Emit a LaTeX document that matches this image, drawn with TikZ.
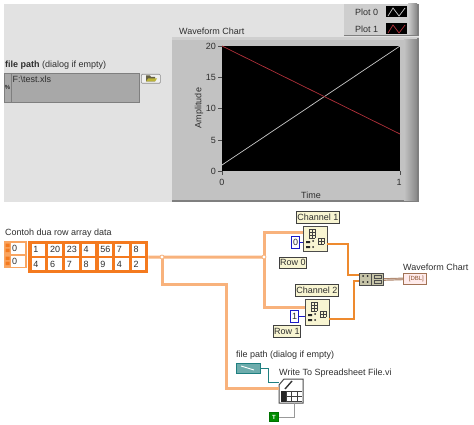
\documentclass[tikz,border=0pt]{standalone}
\usepackage{fontspec}
\usepackage{xcolor}
\setmainfont{Liberation Sans}
\usetikzlibrary{calc, positioning}
\definecolor{panelgray}{HTML}{E2E2E2}
\definecolor{framegray}{HTML}{C2C2C2}
\definecolor{edgegray}{HTML}{7F7F7F}
\definecolor{pathgray}{HTML}{A8A8A8}
\definecolor{txtdark}{HTML}{2E2E2E}
\definecolor{arrorange}{HTML}{F47A1F}
\definecolor{idxorange}{HTML}{F9A561}
\definecolor{wirepale}{HTML}{F8B27C}
\definecolor{wireorange}{HTML}{EE8A2E}
\definecolor{wirebrown}{HTML}{8A4F2A}
\definecolor{wireteal}{HTML}{1F7F80}
\definecolor{fnyellow}{HTML}{F8F5D2}
\definecolor{intblue}{HTML}{1A1AC8}
\definecolor{plotred}{HTML}{B0303A}
\definecolor{plotwhite}{HTML}{C8C8C8}
\tikzset{
    lbl/.style={font=\fontsize{9}{10}\selectfont, text=txtdark, inner sep=0pt},
    boxed/.style={anchor=north west, inner sep=0pt},
    cellbox/.style={boxed, lbl, fill=white, minimum width=13.5pt, minimum height=12pt, text width=12pt, align=left},
    notebox/.style={boxed, lbl, draw=black!75, fill=fnyellow, line width=0.8pt},
    fnbox/.style={boxed, draw=black!70, fill=fnyellow, line width=1pt},
    wiretwo/.style={wirepale, line width=3pt},
    wireone/.style={wireorange, line width=1.8pt},
    icongrid/.style={black!75, line width=0.7pt},
    indexfn/.pic={
        \draw[icongrid, step=3pt] (6,3) grid (12,12);
        \draw[icongrid, step=3pt] (15,12) grid (21,18);
        \fill[black!85] (3,15) rectangle (7,17) (3,20) rectangle (7,22);
        \fill[black!85] (10,15) circle (1pt) (10,21) circle (1pt);
    }
}
\begin{document}
\begin{tikzpicture}[x=1pt, y=-1pt]
    \useasboundingbox (0,0) rectangle (474,425);
    % front panel
    \fill[panelgray] (4,4) rectangle (419,202);
    \fill[framegray] (172,40) rectangle (419,202);
    \fill[framegray!60!panelgray] (172,37) rectangle (419,40);
    \fill[edgegray] (172,200) rectangle (419,202);
    \fill[left color=framegray, right color=framegray!70!black] (404,40) rectangle (417,200);
    \fill[edgegray] (417,38) rectangle (419,202);
    \fill[framegray!80!white] (344,4) rectangle (419,36);
    \fill[left color=framegray!80!white, right color=framegray!70!black] (408,4) rectangle (417,36);
    \fill[edgegray] (417,4) rectangle (419,36);
    \fill[edgegray] (344,35) rectangle (419,36.5);
    \node[boxed, fill=black, minimum width=178pt, minimum height=125pt] (plotarea) at (222,46) {};
    \draw[plotwhite, line width=0.7pt] (222,165) -- (400,46);
    \draw[plotred, line width=0.7pt] (222,46) -- (400,134);
    % axes
    \node[lbl, anchor=south west] (charttitle) at (179,35) {Waveform Chart};
    \foreach \val/\ypos in {20/46, 15/77, 10/108, 5/140, 0/171} {
        \node[lbl, anchor=east] (ytick\val) at (216,\ypos) {\val};
        \draw[black!70, line width=0.6pt] (218,\ypos) -- (222,\ypos);
    }
    \node[lbl] (xtick0) at (222,182) {0};
    \node[lbl] (xtick1) at (399,182) {1};
    \draw[black!70, line width=0.6pt] (222,171) -- (222,175) (400,171) -- (400,175);
    \node[lbl] (xname) at (311,195) {Time};
    \node[lbl, rotate=90] (yname) at (199,108) {Amplitude};
    % legend
    \node[lbl, anchor=west] (legend0) at (355,12) {Plot 0};
    \node[lbl, anchor=west] (legend1) at (355,29) {Plot 1};
    \foreach \ypos/\col in {6/plotwhite, 23/plotred} {
        \fill[black] (386,\ypos) rectangle (407,\ypos+11.5);
        \draw[\col, line width=0.7pt] (388,\ypos+10) -- (393,\ypos+2) -- (399,\ypos+10) -- (405,\ypos+2);
    }
    % file path control
    \node[lbl, anchor=south west] (pathlabel) at (5,70) {\textbf{file path} (dialog if empty)};
    \node[boxed, fill=pathgray, draw=edgegray, line width=0.8pt, minimum width=135pt, minimum height=29pt] (pathbox) at (4,73) {};
    \draw[edgegray, line width=0.8pt] (11,73) -- (11,102);
    \node[lbl, anchor=north west] (pathtext) at (12.5,76) {F:\textbackslash test.xls};
    \node[lbl, font=\fontsize{6}{6}\selectfont\bfseries] (pathpin) at (7.5,87) {\%};
    \node[boxed, fill=panelgray!50!white, draw=black!45, line width=0.6pt, rounded corners=1pt, minimum width=19pt, minimum height=9pt] (browsebtn) at (141,74) {};
    \fill[black!70!yellow] (146,75.5) -- (150,75.5) -- (151,77) -- (155,77) -- (155,81.5) -- (146,81.5) -- cycle;
    \fill[yellow!70!black] (148,78.5) -- (157,78.5) -- (155,81.5) -- (146,81.5) -- cycle;
    % array control
    \node[lbl, anchor=south west] (arraylabel) at (5,238) {Contoh dua row array data};
    \node[boxed, fill=idxorange, minimum width=23pt, minimum height=27pt] (indexframe) at (4,241) {};
    \foreach \ypos in {243, 256} {
        \node[boxed, lbl, fill=white, minimum width=14pt, minimum height=10.5pt, text width=12pt, align=left] (index\ypos) at (11,\ypos) {0};
        \fill[arrorange] (5.5,\ypos+0.5) rectangle (9.5,\ypos+4) (5.5,\ypos+5.5) rectangle (9.5,\ypos+9);
    }
    \node[boxed, fill=arrorange, minimum width=120pt, minimum height=32pt] (arrayframe) at (28,241) {};
    \foreach \val [count=\i] in {1,20,23,4,56,7,8} {
        \node[cellbox] (rowa\i) at ({31.5+16.7*(\i-1)},243.5) {\hspace{1pt}\val};
    }
    \foreach \val [count=\i] in {4,6,7,8,9,4,2} {
        \node[cellbox] (rowb\i) at ({31.5+16.7*(\i-1)},258) {\hspace{1pt}\val};
    }
    % block diagram
    \coordinate (jleft) at (162,257);
    \coordinate (jright) at (264,257);
    \node[fnbox, minimum width=24pt, minimum height=25pt] (indexa) at (303,226) {};
    \node[fnbox, minimum width=24pt, minimum height=26pt] (indexb) at (305,299) {};
    \pic at (indexa.north west) {indexfn};
    \pic at (indexb.north west) {indexfn};
    \node[notebox, minimum width=43pt, minimum height=12pt] (chana) at (296,211) {Channel 1};
    \node[notebox, minimum width=43pt, minimum height=12pt] (chanb) at (295,284) {Channel 2};
    \node[notebox, minimum width=27pt, minimum height=11pt] (rowzero) at (279,257) {Row 0};
    \node[notebox, minimum width=27pt, minimum height=12pt] (rowone) at (273,325) {Row 1};
    \node[boxed, lbl, draw=intblue, fill=white, line width=1.3pt, minimum width=8pt, minimum height=12pt] (consta) at (291,236) {0};
    \node[boxed, lbl, draw=intblue, fill=white, line width=1.3pt, minimum width=8pt, minimum height=12pt] (constb) at (290,310) {1};
    \node[fnbox, fill=fnyellow!80!black, minimum width=24pt, minimum height=12pt] (buildarr) at (359,273) {};
    \draw[black!70, line width=0.8pt] (371,273) -- (371,285);
    \fill[black!85] (363,276) circle (1pt) (363,282) circle (1pt) (367.5,276) circle (1pt) (367.5,282) circle (1pt);
    \draw[black!70, line width=0.6pt] (374,275.5) rectangle (381,278.5) (374,280) rectangle (381,283);
    \node[boxed, draw=wirebrown!80, fill=red!8, line width=0.8pt, minimum width=23pt, minimum height=11pt, font=\fontsize{6}{6}\selectfont, text=wirebrown] (chartterm) at (403,273) {\hspace{3pt}[DBL]};
    \node[lbl, anchor=south west] (chartname) at (403,271) {Waveform Chart};
    \node[boxed, draw=wireteal, fill=wireteal!65, line width=0.9pt, minimum width=24pt, minimum height=10pt] (pathterm) at (236,363) {};
    \draw[white, line width=0.9pt] (241,366) -- (254,370);
    \node[lbl, anchor=south west] (pathname) at (236,360) {file path (dialog if empty)};
    \node[boxed, draw=none, minimum width=24pt, minimum height=24pt] (writevi) at (279,379) {};
    \draw[black!70, fill=white, line width=1pt] (284,379) -- (303,379) -- (303,403) -- (279,403) -- (279,385) -- cycle;
    \draw[black!75, line width=0.7pt] (281,391) -- (302,391) (281,396) -- (302,396) (281,401) -- (302,401);
    \draw[black!75, line width=0.7pt] (286,391) -- (286,402) (291,391) -- (291,402) (297,391) -- (297,402);
    \fill[black!85] (281,391) rectangle (286,402);
    \draw[black!80, line width=1.4pt] (285,389) -- (292,381);
    \node[lbl, anchor=south west] (writename) at (279,378) {Write To Spreadsheet File.vi};
    \node[boxed, draw=green!45!black, fill=green!55!black, line width=0.9pt, minimum width=9pt, minimum height=9pt, font=\fontsize{6}{6}\selectfont\bfseries, text=white] (boolconst) at (269,412) {T};
    % wires
    \coordinate (indexain) at (303,232);
    \coordinate (indexbin) at (305,307);
    \coordinate (indexaout) at (327,244);
    \coordinate (indexbout) at (329,319);
    \coordinate (buildtop) at (359,275);
    \coordinate (buildbot) at (359,281);
    \coordinate (writein) at (279,388);
    \coordinate (writepath) at (279,382);
    \coordinate (writebool) at (294,403);
    \draw[wiretwo] (arrayframe.east) -- (jright);
    \draw[wiretwo] (jleft) -- ++(0,27) -| (226,388) -- (writein);
    \draw[wiretwo] (jright) |- (indexain);
    \draw[wiretwo] (jright) |- (indexbin);
    \draw[wireone] (indexaout) -- ++(21,0) |- (buildtop);
    \draw[wireone] (indexbout) -- ++(25,0) |- (buildbot);
    \draw[wirebrown!70, line width=2.6pt] (buildarr.east) -- (chartterm.west);
    \draw[white!70!wirebrown, line width=0.7pt] (buildarr.east) -- (chartterm.west);
    \draw[intblue, line width=0.8pt] (consta.east) -- (indexa.west |- consta.east);
    \draw[intblue, line width=0.8pt] (constb.east) -- (indexb.west |- constb.east);
    \draw[wireteal, line width=1pt] (pathterm.east) -- ++(8,0) |- (writepath);
    \draw[black!40, line width=0.7pt] (boolconst.east) -| (writebool);
    \node[circle, draw=wirepale, fill=white, line width=0.8pt, minimum size=4pt, inner sep=0pt] (jleftdot) at (jleft) {};
    \node[circle, draw=wirepale, fill=white, line width=0.8pt, minimum size=4pt, inner sep=0pt] (jrightdot) at (jright) {};
\end{tikzpicture}
\end{document}
